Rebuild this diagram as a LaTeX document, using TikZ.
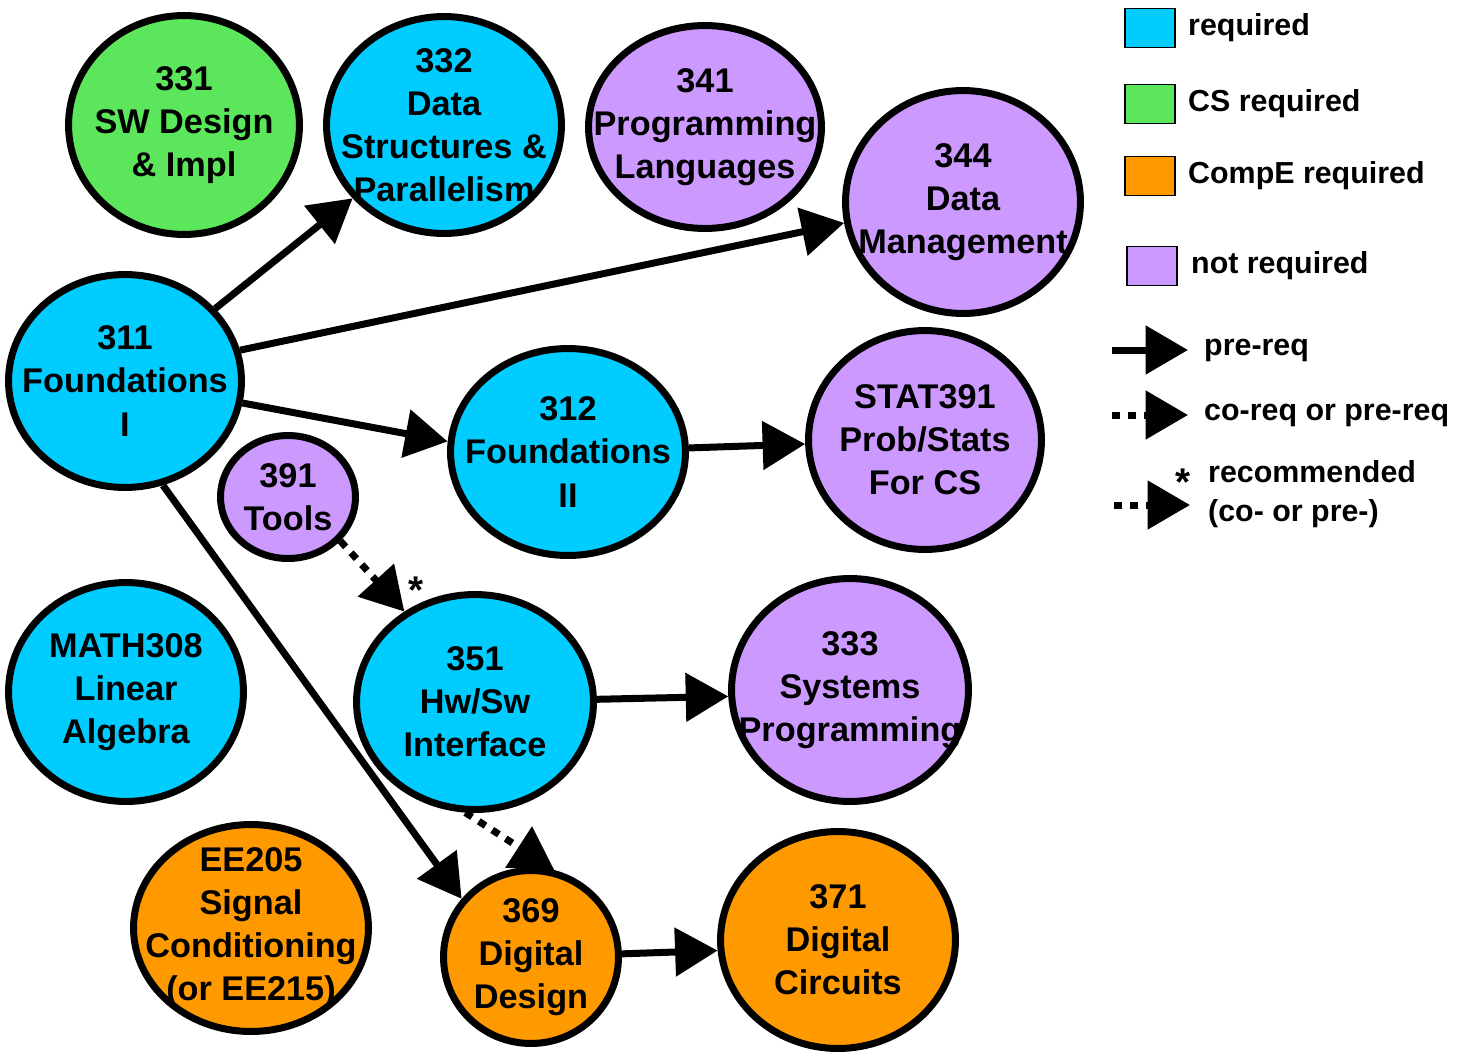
\documentclass[tikz,border=0pt]{standalone}
\usepackage{fontspec}
\setmainfont{Liberation Sans}
\usetikzlibrary{shapes.geometric,arrows.meta}
\definecolor{req}{HTML}{00CCFF}
\definecolor{csreq}{HTML}{5CE65C}
\definecolor{cereq}{HTML}{FF9900}
\definecolor{notreq}{HTML}{CC99FF}
\tikzset{
 crs/.style={ellipse,draw=black,line width=0.14cm,inner sep=0pt},
 ctxt/.style={align=center,inner sep=0pt,font=\fontsize{19.5}{24.5}\selectfont\bfseries},
 pre/.style={line width=0.14cm,-{Triangle[length=0.85cm,width=0.95cm]}},
 co/.style={pre,dash pattern=on 0.16cm off 0.16cm},
 lbl/.style={anchor=west,font=\fontsize{17.3}{22}\selectfont\bfseries,align=left},
 sw/.style={draw=black,line width=0.03cm,minimum width=1cm,minimum height=0.78cm,inner sep=0pt}
}
\newcommand{\crs}[6]{\node[crs,fill=#4,minimum width=#5*0.04cm-0.14cm,minimum height=#6*0.04cm-0.14cm] (#1) at #2 {};
 \node[ctxt] (#1t) at #2 {#3};}
\begin{document}
\begin{tikzpicture}[x=0.02cm,y=-0.02cm]
\useasboundingbox (0,0) rectangle (1474,1058);
\crs{c331}{(184,125)}{331\\SW Design\\\& Impl}{csreq}{119}{113}
\crs{c332}{(444,125)}{332\\Data\\Structures \&\\Parallelism}{req}{121}{112}
\crs{c341}{(705,127)}{341\\Programming\\Languages}{notreq}{120}{105}
\crs{c344}{(963,202)}{344\\Data\\Management}{notreq}{121}{115}
\crs{c311}{(125,381)}{311\\Foundations\\I}{req}{120}{110}
\crs{c312}{(568,452)}{312\\Foundations\\II}{req}{121}{107}
\crs{s391}{(925,440)}{STAT391\\Prob/Stats\\For CS}{notreq}{120}{113}
\crs{c391}{(288,497)}{391\\Tools}{notreq}{71}{65}
\crs{c351}{(475,702)}{351\\Hw/Sw\\Interface}{req}{122}{111}
\crs{c333}{(850,690)}{333\\Systems\\Programming}{notreq}{122}{115}
\crs{m308}{(126,692)}{MATH308\\Linear\\Algebra}{req}{121}{113}
\crs{ee205}{(251,928)}{EE205\\Signal\\Conditioning\\(or EE215)}{cereq}{121}{107}
\crs{c369}{(531,957)}{369\\Digital\\Design}{cereq}{91}{90}
\crs{c371}{(838,940)}{371\\Digital\\Circuits}{cereq}{121}{112}

\draw[pre] (c311) -- (c332);
\draw[pre] (c311.15) -- (c344.190);
\draw[pre] (c311) -- (c312.175);
\draw[pre] (c311.-70) -- (c369.140);
\draw[pre] (c312) -- (s391);
\draw[pre] (c351) -- (c333.183);
\draw[pre] (c369) -- (c371.185);
\draw[co] (c391.-40) -- (c351.128);
\node[font=\fontsize{22}{22}\selectfont\bfseries] (st1) at (416,590) {*};
\draw[co] (c351.-95) -- (c369.75);

% legend
\node[sw,fill=req] (l1) at (1150,28) {};
\node[lbl] (t1) at (1182,28) {required};
\node[sw,fill=csreq] (l2) at (1150,104) {};
\node[lbl] (t2) at (1182,104) {CS required};
\node[sw,fill=cereq] (l3) at (1150,176) {};
\node[lbl] (t3) at (1182,176) {CompE required};
\node[sw,fill=notreq] (l4) at (1152,266) {};
\node[lbl] (t4) at (1185,266) {not required};
\coordinate (a1) at (1112,350); \coordinate (b1) at (1188,350);
\draw[pre] (a1) -- (b1);
\node[lbl] (t5) at (1198,350) {pre-req};
\coordinate (a2) at (1112,415); \coordinate (b2) at (1188,415);
\draw[co] (a2) -- (b2);
\node[lbl] (t6) at (1198,415) {co-req or pre-req};
\coordinate (a3) at (1114,505); \coordinate (b3) at (1190,505);
\draw[co] (a3) -- (b3);
\node[font=\fontsize{22}{22}\selectfont\bfseries] (st2) at (1183,482) {*};
\node[lbl] (t7) at (1202,494) {recommended\\(co- or pre-)};
\end{tikzpicture}
\end{document}
